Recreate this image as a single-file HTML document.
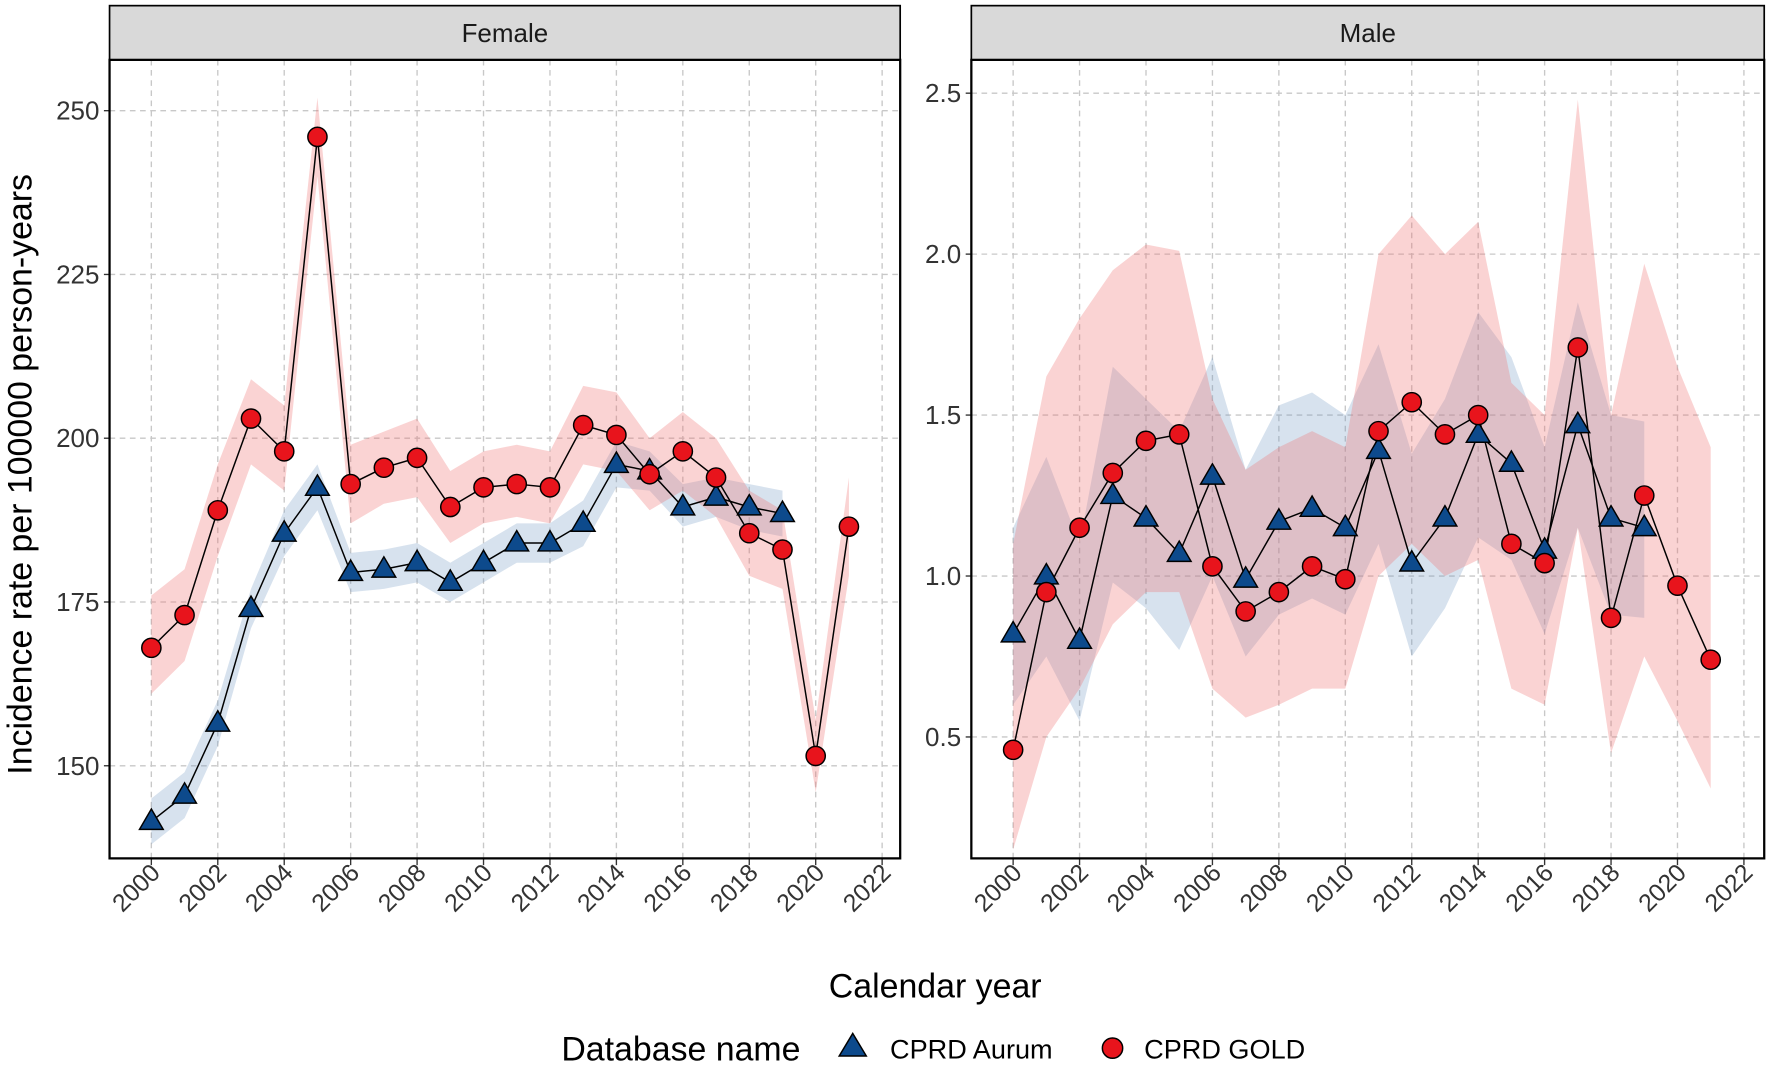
<!DOCTYPE html>
<html><head><meta charset="utf-8"><style>
body{margin:0;background:#fff;font-family:"Liberation Sans",Arial,sans-serif}
svg{display:block}
</style></head><body>
<svg id="c" width="1771" height="1068" viewBox="0 0 1568 945.6" preserveAspectRatio="none" xmlns="http://www.w3.org/2000/svg" font-family="Liberation Sans, Arial, sans-serif"></svg>
<script>
const years=[2000,2001,2002,2003,2004,2005,2006,2007,2008,2009,2010,2011,2012,2013,2014,2015,2016,2017,2018,2019,2020,2021];
const fGold=[168,173,189,203,198,246,193,195.5,197,189.5,192.5,193,192.5,202,200.5,194.5,198,194,185.5,183,151.5,186.5];
const fGoldLo=[161,166,182,196,192,240,187,190,191,184,187,188,187,196,195,189,192,188,179,177,146,179];
const fGoldHi=[176,180,196,209,205,252,199,201,203,195,198,199,198,208,207,200,204,200,192,189,157,194];
const fAur=[141.5,145.5,156.5,174,185.5,192.5,179.5,180,181,178,181,184,184,187,196,195,189.5,191,189.5,188.5];
const fAurLo=[138,142,153,171,182,189,176.5,177,178,175,178,181,181,183.5,192.5,192,186.5,188,186,185];
const fAurHi=[145,149,160,177,189,196,182.5,183,184,181,184,187,187,190.5,199.5,198,193,194,193,192];
const mGold=[0.46,0.95,1.15,1.32,1.42,1.44,1.03,0.89,0.95,1.03,0.99,1.45,1.54,1.44,1.50,1.10,1.04,1.71,0.87,1.25,0.97,0.74];
const mGoldLo=[0.15,0.5,0.65,0.85,0.95,0.95,0.65,0.56,0.6,0.65,0.65,1.0,1.1,1.0,1.05,0.65,0.6,1.15,0.45,0.75,0.55,0.34];
const mGoldHi=[1.1,1.62,1.8,1.95,2.03,2.01,1.55,1.33,1.4,1.45,1.4,2.0,2.12,2.0,2.1,1.6,1.5,2.48,1.5,1.97,1.65,1.4];
const mAur=[0.82,1.0,0.80,1.25,1.18,1.07,1.31,0.99,1.17,1.21,1.15,1.39,1.04,1.18,1.44,1.35,1.08,1.47,1.18,1.15];
const mAurLo=[0.6,0.75,0.55,0.98,0.9,0.77,1.0,0.75,0.88,0.93,0.88,1.1,0.75,0.9,1.12,1.05,0.82,1.15,0.88,0.87];
const mAurHi=[1.15,1.37,1.1,1.65,1.55,1.45,1.68,1.33,1.53,1.57,1.5,1.72,1.38,1.55,1.82,1.68,1.4,1.85,1.5,1.48];
const xTicks=[2000,2002,2004,2006,2008,2010,2012,2014,2016,2018,2020,2022];
const fTicks=[150,175,200,225,250];
const mTicks=[0.5,1.0,1.5,2.0,2.5];

const svg=document.getElementById('c');
const NS='http://www.w3.org/2000/svg';
function el(t,a,p){const e=document.createElementNS(NS,t);for(const k in a)e.setAttribute(k,a[k]);(p||svg).appendChild(e);return e;}

function panel(name,left,right,y,tickVals,fmt,gold,gLo,gHi,aur,aLo,aHi){
  const top=53,bot=760;
  const g=el('g',{});
  
  
  const x=v=>left+37+(v-2000)*29.41;
  const s=el('rect',{x:left,y:5,width:right-left,height:top-5,fill:'#d9d9d9',stroke:'#000','stroke-width':1.5},g);
  
  const st=el('text',{x:(left+right)/2,y:37,'text-anchor':'middle','font-size':23,fill:'#1a1a1a'},g);
  st.textContent=name==='female'?'Female':'Male';
  
  xTicks.forEach(v=>{el('line',{x1:x(v),x2:x(v),y1:top,y2:bot,stroke:'#c8c8c8','stroke-dasharray':'5,4','stroke-width':1.2},g);});
  tickVals.forEach(v=>{el('line',{x1:left,x2:right,y1:y(v),y2:y(v),stroke:'#c8c8c8','stroke-dasharray':'5,4','stroke-width':1.2},g);
    const t=el('text',{x:left-9,y:y(v)+8,'text-anchor':'end','font-size':23,fill:'#333'},g);t.textContent=fmt(v);
    
    el('line',{x1:left-5,x2:left,y1:y(v),y2:y(v),stroke:'#333','stroke-width':1.2},g);});
  xTicks.forEach(v=>{el('line',{x1:x(v),x2:x(v),y1:bot,y2:bot+6,stroke:'#333','stroke-width':1.2},g);
    const t=el('text',{transform:`translate(${x(v)+9},${bot+14}) rotate(-45)`,'text-anchor':'end','font-size':22,fill:'#333'},g);t.textContent=v;
    });
  function band(lo,hi,fill,nm){
    let d='';lo.forEach((v,i)=>d+=(i?'L':'M')+x(years[i])+','+y(v));
    for(let i=hi.length-1;i>=0;i--)d+='L'+x(years[i])+','+y(hi[i]);
    const p=el('path',{d:d+'Z',fill:fill},g);}
  band(aLo,aHi,'rgba(110,150,195,0.28)',name+'-aurum-ci-band');
  band(gLo,gHi,'rgba(240,110,110,0.3)',name+'-gold-ci-band');
  function line(vals,nm){const p=el('polyline',{points:vals.map((v,i)=>x(years[i])+','+y(v)).join(' '),fill:'none',stroke:'#000','stroke-width':1.3},g);
    }
  line(aur,name+'-aurum-line');line(gold,name+'-gold-line');
  aur.forEach((v,i)=>{const cx=x(years[i]),cy=y(v);
    const p=el('polygon',{points:`${cx},${cy-11} ${cx-10.5},${cy+7} ${cx+10.5},${cy+7}`,fill:'#0d4a8c',stroke:'#000','stroke-width':1.3},g);
    });
  gold.forEach((v,i)=>{const c=el('circle',{cx:x(years[i]),cy:y(v),r:8.5,fill:'#e8141c',stroke:'#000','stroke-width':1.3},g);
    });
  el('rect',{x:left,y:top,width:right-left,height:bot-top,fill:'none',stroke:'#000','stroke-width':2},g);
}
panel('female',97,797,v=>388-(v-200)*5.8,fTicks,v=>v,fGold,fGoldLo,fGoldHi,fAur,fAurLo,fAurHi);
panel('male',860,1562,v=>510-(v-1)*285,mTicks,v=>v.toFixed(1),mGold,mGoldLo,mGoldHi,mAur,mAurLo,mAurHi);

let t=el('text',{transform:'translate(28,420) rotate(-90)','text-anchor':'middle','font-size':30,fill:'#000'});
t.textContent='Incidence rate per 100000 person-years';

t=el('text',{x:828,y:883,'text-anchor':'middle','font-size':30,fill:'#000'});
t.textContent='Calendar year';

const lg=el('g',{});

t=el('text',{x:497,y:939,'font-size':30,fill:'#000'},lg);t.textContent='Database name';
el('polygon',{points:'755,915 743,935 767,935',fill:'#0d4a8c',stroke:'#000','stroke-width':1.3},lg);
t=el('text',{x:788,y:937,'font-size':24,fill:'#000'},lg);t.textContent='CPRD Aurum';

el('circle',{cx:985,cy:928,r:9,fill:'#e8141c',stroke:'#000','stroke-width':1.3},lg);
t=el('text',{x:1013,y:937,'font-size':24,fill:'#000'},lg);t.textContent='CPRD GOLD';

</script>
</body></html>
